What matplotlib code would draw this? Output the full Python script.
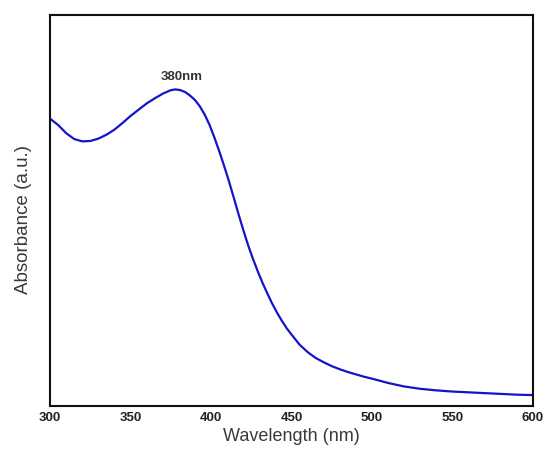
import matplotlib
matplotlib.use('Agg')
import matplotlib.pyplot as plt

# UV-vis absorbance spectrum (arbitrary units)
wavelength = [300, 305, 310, 315, 320, 325, 330, 335, 340, 345, 350, 355, 360,
              365, 370, 375, 378, 381, 384, 387, 390, 393, 396, 399, 402, 405,
              408, 411, 414, 417, 420, 423, 426, 429, 432, 435, 438, 441, 444,
              447, 450, 455, 460, 465, 470, 475, 480, 485, 490, 495, 500, 510,
              520, 530, 540, 550, 560, 570, 580, 590, 600]
absorbance = [0.735, 0.719, 0.698, 0.683, 0.677, 0.678, 0.684, 0.694, 0.707, 0.724,
              0.742, 0.758, 0.774, 0.787, 0.799, 0.808, 0.810, 0.808, 0.803, 0.794,
              0.783, 0.767, 0.746, 0.720, 0.688, 0.653, 0.616, 0.577, 0.535, 0.492,
              0.451, 0.412, 0.377, 0.345, 0.315, 0.288, 0.262, 0.239, 0.218, 0.199,
              0.183, 0.157, 0.138, 0.123, 0.112, 0.102, 0.094, 0.087, 0.081, 0.075,
              0.070, 0.059, 0.050, 0.044, 0.040, 0.037, 0.035, 0.033, 0.031, 0.029,
              0.028]
xticks = [300, 350, 400, 450, 500, 550, 600]
peak_label = '380nm'

plt.rcParams['font.family'] = ['Liberation Sans', 'DejaVu Sans']

fig = plt.figure(figsize=(5.5, 4.58), dpi=100)
ax = fig.add_axes([0.091, 0.1135, 0.878, 0.8535])

ax.plot(wavelength, absorbance, color='#1414c8', linewidth=1.6,
        solid_joinstyle='round', solid_capstyle='round')
ax.text(382, 0.841, peak_label, ha='center', va='center', fontsize=9.5,
        fontweight='bold', color='#333333')

ax.set_xlim(300, 600)
ax.set_ylim(0, 1)
ax.set_xticks(xticks)
ax.set_yticks([])
ax.tick_params(axis='x', length=0, pad=4, labelsize=9.5, labelcolor='#222222')
for lbl in ax.get_xticklabels():
    lbl.set_fontweight('bold')
for sp in ax.spines.values():
    sp.set_linewidth(1.5)
    sp.set_color('#111111')

ax.set_xlabel('Wavelength (nm)', fontsize=13, color='#3a3a3a', labelpad=3)
ax.set_ylabel('Absorbance (a.u.)', fontsize=13.5, color='#3a3a3a')
ax.yaxis.set_label_coords(-0.037, 0.476)

plt.savefig('out.png', dpi=100)
